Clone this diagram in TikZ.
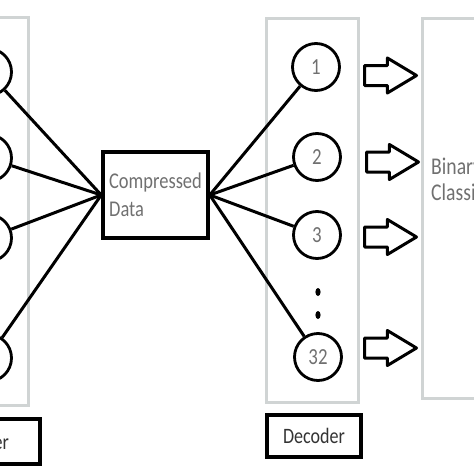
\documentclass[tikz,border=0pt]{standalone}
\usepackage{fontspec}
\setmainfont{Carlito}[FakeStretch=0.82]
\usetikzlibrary{shapes,arrows}
\definecolor{framegray}{RGB}{208,212,212}
\definecolor{textgray}{RGB}{112,112,112}
\tikzstyle{link} = [line width=3pt]
\tikzstyle{neuron} = [circle, draw, line width=2.8pt, minimum size=47pt, inner sep=0pt,
text=textgray, font=\fontsize{23}{26}\selectfont]
\tikzstyle{layerframe} = [rectangle, draw=framegray, line width=3pt, inner sep=0pt]
\tikzstyle{block} = [rectangle, draw, line width=3.5pt, text=textgray, align=left,
font=\fontsize{22.5}{28}\selectfont, minimum width=105pt, minimum height=86pt]
\tikzstyle{labelbox} = [rectangle, draw, line width=3.5pt, text=black!80,
font=\fontsize{22}{26}\selectfont, minimum height=42pt]
\tikzstyle{fatarrow} = [single arrow, draw, line width=3pt, line join=round,
minimum height=52pt, inner sep=8.5pt, single arrow head extend=7.5pt,
single arrow tip angle=62, single arrow head indent=0pt, anchor=tail]

\begin{document}
\begin{tikzpicture}[x=1pt, y=-1pt]
	\clip (0,0) rectangle (474,474);
	% Layer frames
	\node (encframe) [layerframe, minimum width=92pt, minimum height=388pt] at (-18,211) {};
	\node (decframe) [layerframe, minimum width=92pt, minimum height=384pt] at (312,210) {};
	\node (clsframe) [layerframe, minimum width=108pt, minimum height=380pt] at (476,208) {};
	
	% Place nodes
	\node (e1) [neuron] at (-12,72) {};
	\node (e2) [neuron] at (-12,158) {};
	\node (e3) [neuron] at (-12,238) {};
	\node (e4) [neuron] at (-12,358) {};
	\node (comp) [block] at (155.5,195) {Compressed\\Data};
	\node (d1) [neuron] at (316,67) {1};
	\node (d2) [neuron] at (317,157) {2};
	\node (d3) [neuron] at (317,235) {3};
	\node (d32) [neuron] at (318,357) {32};
	\fill (318,292) ellipse (2.6pt and 4pt);
	\fill (318,315) ellipse (2.6pt and 4pt);
	
	% Links
	\draw [link] (e1) -- (comp.west);
	\draw [link] (e2) -- (comp.west);
	\draw [link] (e3) -- (comp.west);
	\draw [link] (e4) -- (comp.west);
	\draw [link] (comp.east) -- (d1);
	\draw [link] (comp.east) -- (d2);
	\draw [link] (comp.east) -- (d3);
	\draw [link] (comp.east) -- (d32);
	
	% Outputs
	\node (out1) [fatarrow] at (363,75.5) {};
	\node (out2) [fatarrow] at (365,162) {};
	\node (out3) [fatarrow] at (363,237) {};
	\node (out4) [fatarrow] at (363,348) {};
	\node (clstext) [text=textgray, align=left, anchor=west, inner sep=0pt,
	font=\fontsize{24}{26}\selectfont] at (431,179) {Binary\\Classifier};
	
	% Labels
	\node (enclabel) [labelbox, minimum width=122pt, minimum height=45pt] at (-21,441.5) {Encoder};
	\node (declabel) [labelbox, minimum width=94pt] at (314,436) {Decoder};
\end{tikzpicture}
\end{document}
